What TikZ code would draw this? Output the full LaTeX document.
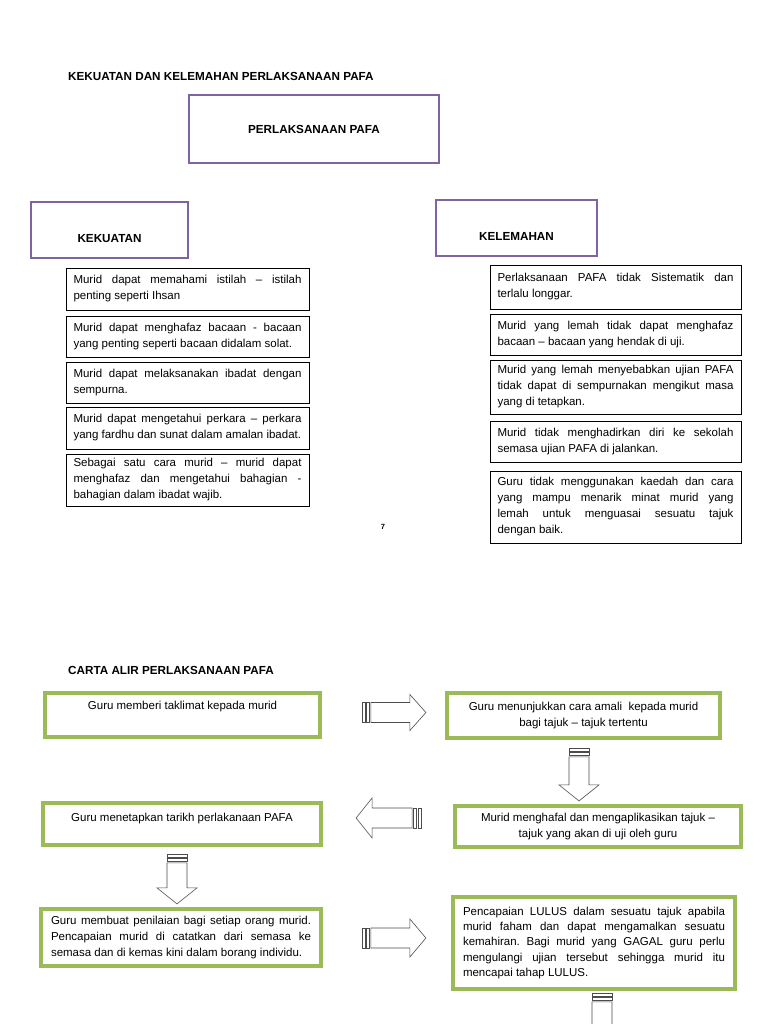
\documentclass[tikz,border=0pt]{standalone}
\usepackage{fontspec}
\setmainfont{Liberation Sans}
\definecolor{headpurple}{RGB}{128,100,162}
\definecolor{flowgreen}{RGB}{155,187,89}
\usetikzlibrary{calc}
\newcommand{\boxfont}{\fontsize{11.5}{16}\selectfont}
\newcommand{\titlefont}{\fontsize{11.7}{14}\selectfont\bfseries}
\tolerance=9999
\hbadness=10000
\frenchspacing

\tikzset{
  headbox/.style={draw=headpurple, line width=2.5pt, font=\titlefont},
  listbox/.style={draw=black, line width=0.9pt, font=\boxfont, align=justify, inner xsep=7.5pt, inner ysep=3pt},
  flowbox/.style={draw=flowgreen, line width=3.8pt, font=\boxfont, inner xsep=10pt, inner ysep=3pt},
  arrowline/.style={draw=black!70, line width=0.6pt, fill=white},
  pics/stripearrow/.style args={#1/#2/#3}{code={
    \draw[arrowline] (0,-#2) rectangle (3,#2);
    \draw[arrowline] (4.5,-#2) rectangle (7.5,#2);
    \draw[arrowline] (9,-#2) -- (#1-16,-#2) -- (#1-16,-#3) -- (#1,0)
      -- (#1-16,#3) -- (#1-16,#2) -- (9,#2) -- cycle;
  }},
}

\begin{document}
\begin{tikzpicture}[x=1pt, y=-1pt]
  \clip (0,0) rectangle (768,1024);

  % Kekuatan dan kelemahan
  \node[anchor=west, inner sep=0pt, font=\titlefont] (title) at (68,76) {KEKUATAN DAN KELEMAHAN PERLAKSANAAN PAFA};
  \node[headbox, minimum width=250, minimum height=68] (pafa) at (314,129) {PERLAKSANAAN PAFA};
  \node[headbox, minimum width=157, minimum height=56, text height=26pt, text depth=0pt] (kekuatan) at (109.5,230) {KEKUATAN};
  \node[headbox, minimum width=161, minimum height=56, text height=25pt, text depth=0pt] (kelemahan) at (516.5,228) {KELEMAHAN};

  % Kekuatan list
  \node[listbox, text width=228pt, minimum height=42] (kuat1) at (187.5,289) {
    Murid dapat memahami istilah -- istilah\linebreak penting seperti Ihsan};
  \node[listbox, text width=228pt, minimum height=41] (kuat2) at (187.5,336.5) {
    Murid dapat menghafaz bacaan - bacaan\linebreak yang penting seperti bacaan didalam solat.};
  \node[listbox, text width=228pt, minimum height=41] (kuat3) at (187.5,382.5) {
    Murid dapat melaksanakan ibadat dengan\linebreak sempurna.};
  \node[listbox, text width=228pt, minimum height=42] (kuat4) at (187.5,428) {
    Murid dapat mengetahui perkara -- perkara\linebreak yang fardhu dan sunat dalam amalan ibadat.};
  \node[listbox, text width=228pt, minimum height=52] (kuat5) at (187.5,480) {
    Sebagai satu cara murid -- murid dapat\linebreak menghafaz dan mengetahui bahagian -\linebreak bahagian dalam ibadat wajib.};

  % Kelemahan list
  \node[listbox, text width=236pt, minimum height=44] (lemah1) at (615.5,287) {
    Perlaksanaan PAFA tidak Sistematik dan\linebreak terlalu longgar.};
  \node[listbox, text width=236pt, minimum height=41] (lemah2) at (615.5,334.5) {
    Murid yang lemah tidak dapat menghafaz\linebreak bacaan -- bacaan yang hendak di uji.};
  \node[listbox, text width=236pt, minimum height=54] (lemah3) at (615.5,387) {
    Murid yang lemah menyebabkan ujian PAFA\linebreak tidak dapat di sempurnakan mengikut masa\linebreak yang di tetapkan.};
  \node[listbox, text width=236pt, minimum height=41] (lemah4) at (615.5,441.5) {
    Murid tidak menghadirkan diri ke sekolah\linebreak semasa ujian PAFA di jalankan.};
  \node[listbox, text width=236pt, minimum height=72] (lemah5) at (615.5,507) {
    Guru tidak menggunakan kaedah dan cara\linebreak yang mampu menarik minat murid yang\linebreak lemah untuk menguasai sesuatu tajuk\linebreak dengan baik.};

  \node[font=\fontsize{7.5}{9}\selectfont\bfseries] (pagenum) at (383,527) {7};

  % Carta alir
  \node[anchor=west, inner sep=0pt, font=\titlefont] (cartatitle) at (68,670) {CARTA ALIR PERLAKSANAAN PAFA};
  \node[flowbox, minimum width=275, minimum height=44, text depth=20pt] (flowa) at (182.5,715) {Guru memberi taklimat kepada murid};
  \node[flowbox, align=center, minimum width=273, minimum height=45] (flowb) at (583.5,715.5) {Guru menunjukkan cara amali\ \ kepada murid\\bagi tajuk -- tajuk tertentu};
  \node[flowbox, align=center, minimum width=286, minimum height=41] (flowc) at (598,826.5) {Murid menghafal dan mengaplikasikan tajuk --\\tajuk yang akan di uji oleh guru};
  \node[flowbox, minimum width=278, minimum height=42, text depth=14pt] (flowd) at (182,824) {Guru menetapkan tarikh perlakanaan PAFA};
  \node[flowbox, text width=260pt, align=justify, minimum height=57] (flowe) at (181,937.5) {
    Guru membuat penilaian bagi setiap orang murid.\linebreak Pencapaian murid di catatkan dari semasa ke\linebreak semasa dan di kemas kini dalam borang individu.};
  \node[flowbox, text width=262pt, align=justify, minimum height=92, font=\fontsize{11.5}{15.3}\selectfont] (flowf) at (594,943) {
    Pencapaian LULUS dalam sesuatu tajuk apabila\linebreak murid faham dan dapat mengamalkan sesuatu\linebreak kemahiran. Bagi murid yang GAGAL guru perlu\linebreak mengulangi ujian tersebut sehingga murid itu\linebreak mencapai tahap LULUS.};

  % Block arrows
  \pic at ($(flowa.east)+(40,-2.5)$) {stripearrow=64/10/18};
  \pic[rotate=-90] at ($(flowb.south)+(-4.5,8)$) {stripearrow=53/10/20};
  \pic[rotate=180] at ($(flowc.west)+(-32,-8.5)$) {stripearrow=65/10/20};
  \pic[rotate=-90] at ($(flowd.south)+(-5,7)$) {stripearrow=50/10/20};
  \pic at ($(flowe.east)+(39,0.5)$) {stripearrow=64/10/19};
  \pic[rotate=-90] at ($(flowf.south)+(8,2)$) {stripearrow=53/10/20};
\end{tikzpicture}
\end{document}
